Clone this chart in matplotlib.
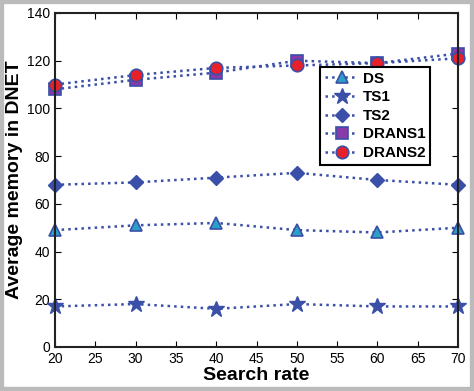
import numpy as np
import matplotlib.pyplot as plt
from matplotlib.patches import Rectangle

plt.rcParams['font.family'] = ['Liberation Sans', 'DejaVu Sans']

rate = [20, 30, 40, 50, 60, 70]
ds = [49, 51, 52, 49, 48, 50]
ts1 = [17, 18, 16, 18, 17, 17]
ts2 = [68, 69, 71, 73, 70, 68]
drans1 = [108, 112, 115, 120, 119, 123]
drans2 = [110, 114, 117, 118, 119, 121]

blue = '#3a4fa8'

fig = plt.figure(figsize=(4.74, 3.91), dpi=100)
ax = fig.add_axes([55 / 474, 44 / 391, 403 / 474, 334 / 391])

kw = dict(ls=':', color=blue, lw=1.8, clip_on=False)
ax.plot(rate, ds, marker='^', ms=9, mfc='#2aa0c8', mec=blue, mew=1.2, label='DS', **kw)
ax.plot(rate, ts1, marker='*', ms=12, mfc=blue, mec=blue, label='TS1', **kw)
ax.plot(rate, ts2, marker='D', ms=7.5, mfc=blue, mec=blue, label='TS2', **kw)
ax.plot(rate, drans1, marker='s', ms=8, mfc='#8a3aa8', mec=blue, mew=1.2, label='DRANS1', **kw)
ax.plot(rate, drans2, marker='o', ms=9, mfc='#e8202a', mec=blue, mew=1.2, label='DRANS2', **kw)

ax.set_xlim(20, 70)
ax.set_ylim(0, 140)
ax.set_xticks(np.arange(20, 71, 5))
ax.set_yticks(np.arange(0, 141, 20))
ax.tick_params(direction='in', top=True, right=True, labelsize=10, length=4)
for s in ax.spines.values():
    s.set_linewidth(1.5)
    s.set_color('#222222')

ax.set_xlabel('Search rate', fontsize=14, fontweight='bold', labelpad=1)
ax.set_ylabel('Average memory in DNET', fontsize=14, fontweight='bold', labelpad=3)

leg = ax.legend(loc='upper left', bbox_to_anchor=(0.658, 0.838), borderaxespad=0,
                fancybox=False, edgecolor='black', framealpha=1,
                prop={'weight': 'bold', 'size': 11},
                borderpad=0.3, labelspacing=0.3, handlelength=2.2, handletextpad=0.3)
leg.get_frame().set_linewidth(1.5)

fig.patches.append(Rectangle((0, 0), 1, 1, transform=fig.transFigure, fill=False,
                             edgecolor='#bbbbbb', lw=6))

fig.savefig('out.png', dpi=100)
